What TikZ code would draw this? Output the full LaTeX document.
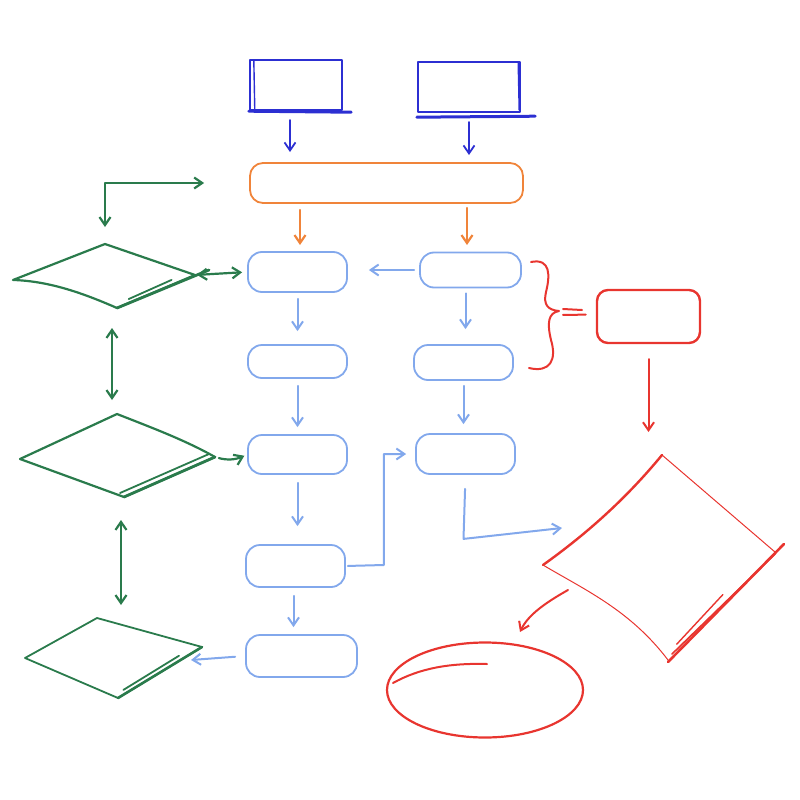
\documentclass[tikz,border=0pt]{standalone}
\usepackage{tikz}
\usetikzlibrary{positioning, arrows.meta, calc, shapes.geometric}

\definecolor{penblue}{HTML}{2C2FD2}
\definecolor{penorange}{HTML}{F0843A}
\definecolor{penlight}{HTML}{82A8EC}
\definecolor{pengreen}{HTML}{2A7B4C}
\definecolor{penred}{HTML}{E8352F}

\begin{document}
\begin{tikzpicture}[x=1pt, y=-1pt, >={Straight Barb[length=8pt, width=11pt]},
    line cap=round, line join=round,
    inbox/.style={draw=penblue, line width=2.4pt, inner sep=0pt},
    mainbox/.style={draw=penorange, line width=1.8pt, rounded corners=13pt, inner sep=0pt},
    stepbox/.style={draw=penlight, line width=1.8pt, rounded corners=14pt, inner sep=0pt, minimum width=99pt},
    outbox/.style={draw=penred, line width=2.4pt, rounded corners=11pt, inner sep=0pt},
    endoval/.style={ellipse, draw=penred, line width=2.2pt, inner sep=0pt},
    barr/.style={->, draw=penblue, line width=1.8pt},
    oarr/.style={->, draw=penorange, line width=2.2pt},
    larr/.style={->, draw=penlight, line width=2pt},
    garr/.style={draw=pengreen, line width=2.2pt},
    rarr/.style={->, draw=penred, line width=2pt}]
\useasboundingbox (0,0) rectangle (800,800);

% Vstupy
\node[inbox, minimum width=92pt, minimum height=50pt] (in1) at (296,85) {};
\node[inbox, minimum width=102pt, minimum height=50pt] (in2) at (469,87) {};
\draw[penblue, line width=1.4pt] ($(in1.north west)+(5,1)$) -- ($(in1.south west)+(6,0)$);
\draw[penblue, line width=3pt] (in1.south west) -- ($(in1.south east)+(8,1)$);
\draw[penblue, line width=3pt] ($(in2.south west)+(0,4)$) -- ($(in2.south east)+(14,3)$);
\draw[penblue, line width=1.4pt] ($(in2.north east)+(-3,2)$) -- ($(in2.south east)+(-2,-3)$);

% Hlavni blok
\node[mainbox, minimum width=273pt, minimum height=40pt] (main) at (386.5,183) {};
\draw[barr, shorten <=35pt, shorten >=31pt] ($(in1.center)+(-6,0)$) -- ($(in1.center |- main.center)+(-6,0)$);
\draw[barr, shorten <=35pt, shorten >=28pt] (in2.center) -- (in2.center |- main.center);

% Kroky
\node[stepbox, minimum height=40pt] (s1) at (297.5,272) {};
\node[stepbox, minimum width=101pt, minimum height=35pt] (s2) at (470.5,270) {};
\node[stepbox, minimum height=33pt] (s3) at (297.5,361.5) {};
\node[stepbox, minimum height=35pt] (s4) at (463.5,362.5) {};
\node[stepbox, minimum height=39pt] (s5) at (297.5,454.5) {};
\node[stepbox, minimum height=40pt] (s6) at (465.5,454) {};
\node[stepbox, minimum height=42pt] (s7) at (295.5,566) {};
\node[stepbox, minimum width=111pt, minimum height=42pt] (s8) at (301.5,656) {};

\draw[oarr, shorten <=27pt, shorten >=27pt] ($(s1.center |- main.center)+(2.5,0)$) -- ($(s1.center)+(2.5,0)$);
\draw[oarr, shorten <=25pt, shorten >=25pt] ($(s2.center |- main.center)+(-3.5,0)$) -- ($(s2.center)+(-3.5,0)$);

\draw[larr, shorten <=5pt, shorten >=21pt] (s2.west) -- (s2.west -| s1.east);
\draw[larr, shorten <=6pt, shorten >=13pt] (s1.south) -- (s1.south |- s3.north);
\draw[larr, shorten <=5pt, shorten >=15pt] ($(s4.north |- s2.south)+(2,0)$) -- ($(s4.north)+(2,0)$);
\draw[larr, shorten <=7pt, shorten >=7pt] (s3.south) -- (s3.south |- s5.north);
\draw[larr, shorten <=5pt, shorten >=9pt] (s4.south) -- (s4.south |- s6.north);
\draw[larr, shorten <=8pt, shorten >=18pt] (s5.south) -- (s5.south |- s7.north);
\draw[larr, shorten <=8pt, shorten >=7pt] ($(s7.south)+(-2,0)$) -- ($(s7.south |- s8.north)+(-2,0)$);
\draw[larr, shorten <=2pt, shorten >=9pt] (s7.east) -- ++(38,-1) |- (s6.west);

% Zelene rozhodovani
\coordinate (d1l) at (13,280); \coordinate (d1t) at (105,244);
\coordinate (d1r) at (195,275); \coordinate (d1b) at (117,308);
\coordinate (d2l) at (20,459); \coordinate (d2t) at (117,414);
\coordinate (d2r) at (215,457); \coordinate (d2b) at (124,497);
\coordinate (d3l) at (25,658); \coordinate (d3t) at (97,618);
\coordinate (d3r) at (202,647); \coordinate (d3b) at (118,698);
\coordinate (d3in) at (191,660);

\draw[garr] (d1l) -- (d1t) -- (d1r) -- (d1b) .. controls (85,294) and (50,281) .. (d1l);
\draw[garr, line width=2.8pt] (d1b) -- ($(d1r)+(14,-5)$);
\draw[garr, line width=1.8pt] ($(d1b)!0.15!(d1r)+(0,-4)$) -- ($(d1b)!0.7!(d1r)+(0,-5)$);

\draw[garr] (d2l) -- (d2t) .. controls (150,427) and (185,440) .. (d2r) -- (d2b) -- (d2l);
\draw[garr, line width=2.8pt] (d2b) -- (d2r);
\draw[garr, line width=1.8pt] ($(d2b)+(-4,-4)$) -- ($(d2r)+(-6,-3)$);

\draw[garr, line width=1.8pt] (d3l) -- (d3t) -- (d3r) -- (d3b) -- (d3l);
\draw[garr, line width=2.6pt] (d3b) -- (d3r);
\draw[garr, line width=1.8pt] ($(d3b)!0.1!(d3r)+(-3,-3)$) -- ($(d3b)!0.75!(d3r)+(-2,-4)$);

\draw[garr, <->, shorten <=17pt, shorten >=45pt] (d1t) |- (main.west);
\draw[garr, <->, shorten <=5pt, shorten >=2pt] (s1.west) -- (d1r);
\draw[garr, <->, shorten <=20pt, shorten >=14pt] ($(d1b)+(-5,0)$) -- ($(d1b |- d2t)+(-5,0)$);
\draw[garr, ->, shorten <=4pt, shorten >=3pt] (d2r) to[bend right=20] (s5.west);
\draw[garr, <->, shorten <=23pt, shorten >=13pt] ($(d2b)+(-3,0)$) -- ($(d2b |- d3t)+(-3,0)$);
\draw[larr, shorten <=10pt] (s8.west) -- (d3in);

% Cervena vetev
\node[outbox, minimum width=103pt, minimum height=53pt] (out) at (648.5,316.5) {};
\coordinate (brace) at (559,311);
\draw[penred, line width=2pt] (531,262) .. controls (551,258) and (550,276) .. (546,292)
    .. controls (543,305) and (548,310) .. (brace)
    .. controls (548,313) and (547,323) .. (551,340)
    .. controls (557,360) and (550,373) .. (529,368);
\draw[penred, line width=2pt] (563,309) -- (582,310);
\draw[penred, line width=2pt, shorten <=4pt, shorten >=10pt] ($(brace)+(0,4)$) -- ($(out.west)+(0,-2)$);

\coordinate (rt) at (662,455); \coordinate (rr) at (775,552);
\coordinate (rb) at (668,660); \coordinate (rl) at (543,565);
\coordinate (rin) at (562,528); \coordinate (rout) at (568,590);
\coordinate (stopin) at (520,632);

\draw[penred, line width=2.4pt] (rl) .. controls (585,535) and (625,500) .. (rt);
\draw[penred, line width=1pt] (rt) -- (rr);
\draw[penred, line width=1pt] (rl) .. controls (585,590) and (630,610) .. (rb);
\draw[penred, line width=2.6pt] ($(rb)+(0,2)$) -- ($(rr)+(9,-8)$);
\draw[penred, line width=1.6pt] ($(rb)+(4,-6)$) -- ($(rr)+(0,2)$);
\draw[penred, line width=1.4pt] ($(rb)!0.1!(rr)+(-2,-5)$) -- ($(rb)!0.55!(rr)+(-4,-6)$);

\draw[rarr, shorten <=15pt, shorten >=23pt] (out.south) -- (out.south |- rt);
\draw[larr, shorten <=14pt] (s6.south) -- ++(-2,64) -- (rin);
\draw[rarr] (rout) .. controls (545,603) and (528,615) .. (stopin);

% Konec
\node[endoval, minimum width=196pt, minimum height=95pt] (stop) at (485,690) {};
\draw[penred, line width=2pt] (393,683) .. controls (420,668) and (450,663) .. (487,664);

\end{tikzpicture}
\end{document}
